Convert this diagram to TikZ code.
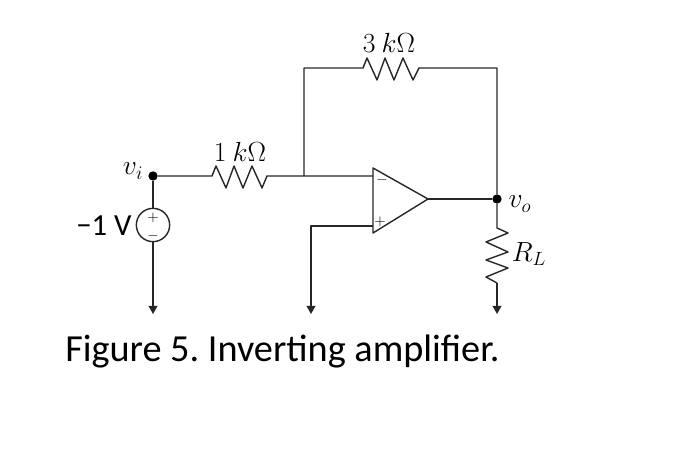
\documentclass[tikz,border=0pt]{standalone}
\usepackage[no-math]{fontspec}
\setmainfont{Carlito}
\usepackage{amsmath}
\usetikzlibrary{arrows.meta, positioning}

\begin{document}
\begin{tikzpicture}[
    x=0.75pt, y=-0.75pt,
    wire/.style={draw=black!85, line width=1.05pt, line join=round},
    gndwire/.style={wire, -{Triangle[length=6pt, width=6.5pt]}},
    dotnode/.style={circle, fill=black, inner sep=0pt, minimum size=7pt},
    srcnode/.style={circle, draw=black!85, line width=1.05pt, inner sep=0pt, minimum size=25pt},
    label/.style={inner sep=0pt, font=\fontsize{20.5}{24}\selectfont},
    srclabel/.style={inner sep=0pt, font=\fontsize{23}{26}\selectfont},
    signnode/.style={inner sep=0pt, font=\fontsize{11}{11}\selectfont},
    capnode/.style={inner sep=0pt, anchor=west, font=\fontsize{28.7}{32}\selectfont\frenchspacing},
    reshoriz/.style={to path={-- ++(4,-10) -- ++(10,22) -- ++(8,-22) -- ++(9,22) -- ++(9,-22) -- ++(10,22) -- (\tikztotarget)}},
    resvert/.style={to path={-- ++(11,5) -- ++(-22,9) -- ++(22,10) -- ++(-22,8) -- ++(22,8) -- ++(-22,9) -- (\tikztotarget)}}
]
\useasboundingbox (0,0) rectangle (682,466);

% Nodes of the circuit
\node[dotnode] (vin) at (153,176) {};
\node[dotnode] (vout) at (497,199) {};
\node[srcnode] (src) at (153,225) {};
\node[signnode] (srcplus) at (153,218) {$+$};
\node[signnode] (srcminus) at (153,236) {$-$};

% Op amp corners and pins
\coordinate (ampa) at (373,168);
\coordinate (ampb) at (428,199);
\coordinate (ampc) at (373,233);
\coordinate (ampm) at (373,176);
\coordinate (ampp) at (373,226);
\node[signnode] (minus) at (382,180) {$-$};
\node[signnode] (plus) at (380,222) {$+$};

% Resistor ends and corners
\coordinate (ra) at (212,176);
\coordinate (rb) at (267,176);
\coordinate (sum) at (304,176);
\coordinate (fbl) at (304,68);
\coordinate (rc) at (363,68);
\coordinate (rd) at (419,68);
\coordinate (fbr) at (497,68);
\coordinate (re) at (497,228);
\coordinate (rf) at (497,283);
\coordinate (bend) at (311,226);
\coordinate (gnda) at (153,314);
\coordinate (gndb) at (311,314);
\coordinate (gndc) at (497,314);

% Wires
\draw[wire] (vin) -- (ra) to[reshoriz] (rb) -- (ampm);
\draw[wire] (sum) -- (fbl) -- (rc) to[reshoriz] (rd) -- (fbr) -- (vout);
\draw[wire] (ampa) -- (ampb) -- (ampc) -- cycle;
\draw[wire] (ampb) -- (vout);
\draw[wire] (vout) -- (re) to[resvert] (rf);
\draw[wire] (vin) -- (src);
\draw[gndwire] (src) -- (gnda);
\draw[gndwire] (ampp) -- (bend) -- (gndb);
\draw[gndwire] (rf) -- (gndc);

% Labels
\node[label] (lvi) at (133,171) {$v_i$};
\node[srclabel] (lsrc) at (104,226) {−1 V};
\node[label] (lra) at (240,152) {$1\ k\Omega$};
\node[label] (lrb) at (389,43) {$3\ k\Omega$};
\node[label] (lvo) at (520,204) {$v_o$};
\node[label] (lrl) at (529,254) {$R_L$};
\node[capnode] (cap) at (65,352) {Figure 5. Inverting amplifier.};

\end{tikzpicture}
\end{document}
